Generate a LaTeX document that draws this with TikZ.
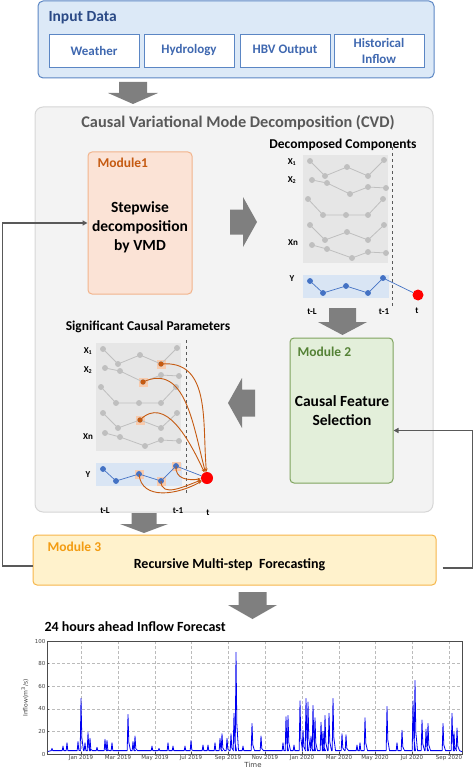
\documentclass[tikz,border=0pt]{standalone}
\usepackage{fontspec}
\setmainfont{Carlito}
\newfontfamily\plotfont{DejaVu Sans}
\usetikzlibrary{positioning,arrows.meta}

\definecolor{inputfill}{HTML}{DCE9F7}
\definecolor{inputedge}{HTML}{5B86C4}
\definecolor{inputtext}{HTML}{2B4A86}
\definecolor{srctext}{HTML}{3F68B0}
\definecolor{arrowgray}{HTML}{7F7F7F}
\definecolor{cvdfill}{HTML}{F3F3F3}
\definecolor{cvdedge}{HTML}{D6D6D6}
\definecolor{cvdtext}{HTML}{595959}
\definecolor{modAfill}{HTML}{FBE3D6}
\definecolor{modAedge}{HTML}{F2B48C}
\definecolor{modAtext}{HTML}{C55A11}
\definecolor{modBfill}{HTML}{E3EFDA}
\definecolor{modBedge}{HTML}{7FA35E}
\definecolor{modBtext}{HTML}{548235}
\definecolor{modCfill}{HTML}{FFF2CC}
\definecolor{modCedge}{HTML}{F6B64A}
\definecolor{modCtext}{HTML}{F39C12}
\definecolor{panelgray}{HTML}{E6E6E6}
\definecolor{panelblue}{HTML}{D9E5F4}
\definecolor{dotgray}{HTML}{BFBFBF}
\definecolor{dotblue}{HTML}{4472C4}
\definecolor{hlfill}{HTML}{F8CBAD}
\definecolor{causal}{HTML}{C55A11}
\definecolor{feedback}{HTML}{595959}
\definecolor{gridgray}{HTML}{BBBBBB}
\definecolor{flowblue}{HTML}{0000F0}

\begin{document}
\begin{tikzpicture}[
	x=1pt, y=-1pt,
	src/.style={draw=inputedge, fill=white, line width=0.8pt, minimum width=90, minimum height=33, inner sep=0pt,
		text=srctext, align=center, font=\fontsize{13}{16}\selectfont\bfseries},
	module/.style={rounded corners=4pt, line width=1pt},
	modlabel/.style={anchor=west, font=\fontsize{13.5}{15}\selectfont\bfseries},
	maintext/.style={align=center, font=\fontsize{15.5}{19}\selectfont\bfseries},
	% block arrow: length / shaft half width / head half width / head length
	pics/blockarrow/.style n args={4}{code={
		\fill[arrowgray] (0,-#2) -- ({#1-#4},-#2) -- ({#1-#4},-#3) -- (#1,0) -- ({#1-#4},#3) -- ({#1-#4},#2) -- (0,#2) -- cycle;
	}},
	sublabel/.style={font=\fontsize{9}{10}\selectfont\bfseries},
	comp/.style={dotgray, line width=0.8pt, mark=*, mark size=2.5pt, mark options={draw=none, fill=dotgray}},
	ycomp/.style={dotblue, line width=0.7pt, mark=*, mark size=2.5pt, mark options={draw=none, fill=dotblue}},
	hl/.style={fill=hlfill, minimum size=9, inner sep=0pt},
	now/.style={circle, fill=red, inner sep=0pt},
	split/.style={cvdtext, dashed, line width=0.9pt},
	cause/.style={causal, line width=0.9pt, -{Stealth[length=3.5pt, width=3pt]}},
	fb/.style={feedback, line width=1.6pt, -{Triangle[length=5pt, width=5pt]}},
	grid/.style={gridgray, densely dashed, line width=0.4pt},
	ticklab/.style={font=\plotfont\fontsize{5.5}{6}\selectfont, text=black!75, inner sep=1.5pt}
]
\useasboundingbox (0,0) rectangle (474,770);

% Input data
\node[draw=inputedge, fill=inputfill, rounded corners=5pt, line width=1pt, minimum width=396, minimum height=77] (input) at (236,39.5) {};
\node[anchor=west, text=inputtext, font=\fontsize{15.5}{17}\selectfont\bfseries] (inlabel) at (45,18) {Input Data};
\node[src] (weather) at (94,50.5) {Weather};
\node[src] (hydro) at (189,50.5) {Hydrology};
\node[src] (hbv) at (285,50.5) {HBV Output};
\node[src] (hist) at (379,50.5) {Historical\\Inflow};

\pic[rotate=-90] (a1) at (133,82) {blockarrow={22}{14}{25}{11}};

% CVD frame
\node[draw=cvdedge, fill=cvdfill, rounded corners=8pt, line width=1pt, minimum width=398, minimum height=405] (cvd) at (234,309.5) {};
\node[text=cvdtext, font=\fontsize{16.3}{18}\selectfont\bfseries] (cvdlabel) at (238,123) {Causal Variational Mode Decomposition (CVD)};

% Module 1
\node[module, draw=modAedge, fill=modAfill, minimum width=104, minimum height=142] (m1) at (140,223) {};
\node[modlabel, text=modAtext] (m1label) at (94,163) {Module1};
\node[maintext] (m1text) at (140,227) {Stepwise\\decomposition\\by VMD};

\pic (a2) at (230,222) {blockarrow={27}{12.5}{25}{14}};

% Decomposed components / significant causal parameters panels
\node[font=\fontsize{13.5}{15}\selectfont\bfseries] (dclabel) at (343,145) {Decomposed Components};
\node[font=\fontsize{13.5}{15}\selectfont\bfseries] (sclabel) at (148,327) {Significant Causal Parameters};
\foreach \dx/\dy in {0/0,-207/188} {
	\fill[panelgray, shift={(\dx,\dy)}] (303,155) rectangle (388,263);
	\fill[panelblue, shift={(\dx,\dy)}] (303,275) rectangle (389,298);
}
\node[hl] (h1) at (161,364) {};
\node[hl] (h2) at (143,382) {};
\node[hl] (h3) at (140,420) {};
\node[hl] (h4) at (139,474) {};
\node[hl] (h5) at (161,481) {};
\node[hl] (h6) at (176,466) {};
\foreach \dx/\dy in {0/0,-207/188} {
	\begin{scope}[shift={(\dx,\dy)}]
	\draw[comp] plot coordinates {(310,161) (325,176) (347,167) (368,176) (384,160)};
	\draw[comp] plot coordinates {(312,180) (327,183) (350,194) (368,187) (386,188)};
	\draw[comp] plot coordinates {(308,199) (323,215) (346,215) (368,215) (383,199)};
	\draw[comp] plot coordinates {(310,225) (325,240) (347,232) (368,240) (384,225)};
	\draw[comp] plot coordinates {(312,245) (327,249) (352,258) (368,252) (386,253)};
	\draw[ycomp] plot coordinates {(310,281) (323,293) (346,286) (368,293) (383,278)};
	\end{scope}
}
\foreach \h in {h1,h2,h3} \fill[causal] (\h) circle (2.6);

% labels of panel A
\node[sublabel] (ax1) at (292,162) {X\textsubscript{1}};
\node[sublabel] (ax2) at (292,180) {X\textsubscript{2}};
\node[sublabel] (axn) at (293,243) {Xn};
\node[sublabel] (ay) at (292,279) {Y};
\node[sublabel] (atl) at (312,312) {t-L};
\node[sublabel] (at1) at (384,312) {t-1};
\node[sublabel] (att) at (417,311) {t};
% labels of panel B
\node[sublabel] (bx1) at (88,351) {X\textsubscript{1}};
\node[sublabel] (bx2) at (88,370) {X\textsubscript{2}};
\node[sublabel] (bxn) at (88,437) {Xn};
\node[sublabel] (by) at (88,475) {Y};
\node[sublabel] (btl) at (105,511) {t-L};
\node[sublabel] (bt1) at (178,511) {t-1};
\node[sublabel] (btt) at (208,513) {t};

% split lines and targets
\coordinate (sA1) at (392,147);
\coordinate (sA2) at (392,307);
\coordinate (sB1) at (186,340);
\coordinate (sB2) at (186,495);
\draw[split] (sA1) -- (sA2);
\draw[split] (sB1) -- (sB2);
\coordinate (yA) at (383,278);
\coordinate (yB) at (176,466);
\node[now, minimum size=11] (tA) at (418,295) {};
\node[now, minimum size=12] (tB) at (207,478) {};
\draw[dotblue, line width=0.7pt] (yA) -- (tA);
\draw[dotblue, line width=0.7pt] (yB) -- (tB);

% causal links
\draw[cause] (h1.center) to[out=5, in=95, looseness=1.1] (tB);
\draw[cause] (h2.center) to[out=25, in=105, looseness=1.1] (tB);
\draw[cause] (h3.center) to[out=45, in=115, looseness=1.1] (tB);
\draw[cause] (h4.center) to[out=-85, in=-150, looseness=1.1] (tB);
\draw[cause] (h5.center) to[out=-90, in=-160, looseness=1.1] (tB);
\draw[cause] (h6.center) to[out=-95, in=-172, looseness=1.2] (tB);

\pic[rotate=-90] (a3) at (342.5,308) {blockarrow={27}{13.5}{24.5}{13}};

% Module 2
\node[module, draw=modBedge, fill=modBfill, minimum width=103, minimum height=145] (m2) at (341.5,410.5) {};
\node[modlabel, text=modBtext] (m2label) at (294,352) {Module 2};
\node[maintext] (m2text) at (342,411) {Causal Feature\\Selection};

\pic[rotate=180] (a4) at (255,403) {blockarrow={27}{13.5}{25}{14}};
\pic[rotate=-90] (a5) at (144,513) {blockarrow={20}{12.5}{24}{9}};

% Module 3
\node[module, draw=modCedge, fill=modCfill, minimum width=403, minimum height=50] (m3) at (234.5,560) {};
\node[modlabel, text=modCtext] (m3label) at (44,547) {Module 3};
\node[font=\fontsize{14}{16}\selectfont\bfseries] (m3text) at (229.5,565) {Recursive Multi-step\ \ Forecasting};

% feedback
\draw[fb] ([yshift=-6pt]m3.west) -- ++(-30,0) |- (m1.west);
\draw[fb] ([shift={(6pt,-8pt)}]m3.east) -- ++(30,0) |- ([yshift=-20pt]m2.east);

\pic[rotate=-90] (a6) at (252.5,592) {blockarrow={27}{14}{24.5}{14}};

% Forecast
\node[anchor=west, font=\fontsize{14}{16}\selectfont\bfseries] (fclabel) at (41,627) {24 hours ahead Inflow Forecast};
\node[rotate=90, font=\plotfont\fontsize{6}{7}\selectfont, text=black!75] (ylab) at (25,698) {Inflow(m\textsuperscript{3}/s)};
\node[font=\plotfont\fontsize{7}{8}\selectfont, text=black!75] (xlab) at (253,765) {Time};
\begin{scope}[shift={(0,754)}, y=1.13pt]
	\foreach \v in {20,40,60,80} \draw[grid] (47,\v) -- (462,\v);
	\foreach \x/\m [count=\i] in {81/Jan 2019, 118/Mar 2019, 155/May 2019, 191/Jul 2019, 228/Sep 2019, 265/Nov 2019,
		302/Jan 2020, 339/Mar 2020, 375/May 2020, 412/Jul 2020, 449/Sep 2020} {
		\draw[grid] (\x,0) -- (\x,100);
		\draw[black!70, line width=0.4pt] (\x,0) -- (\x,1.5);
		\node[ticklab, below] (xt\i) at (\x,0) {\m};
	}
	\foreach \v in {0,20,...,100} {
		\draw[black!70, line width=0.4pt] (47,\v) -- (49,\v);
		\node[ticklab, left] (yt\v) at (47,\v) {\v};
	}
	\draw[flowblue, line width=0.8pt, line join=round] (47,2)
		\foreach \x/\v in {52/5, 63/7, 67/10, 78/11, 81/49, 85/10, 88/19, 90/14, 97/6, 105/13, 107/12, 112/10,
			128/35, 133/11, 135/16, 152/7, 159/5, 168/10, 173/7, 185/7, 191/12, 203/8, 208/8, 215/10, 220/14,
			222/18, 227/14, 231/18, 234/36, 236/90, 243/7, 252/27, 261/16, 283/10, 286/33, 288/34, 294/8,
			300/47, 303/21, 306/49, 308/46, 311/16, 313/43, 315/32, 321/28, 323/20, 325/34, 329/36, 333/49,
			342/18, 346/17, 357/8, 360/10, 365/32, 387/42, 397/10, 402/21, 413/47, 415/65, 422/30, 426/22,
			428/27, 443/27, 452/36, 454/19, 457/23}
		{ -- ({\x-0.8},3) -- (\x,\v) -- ({\x+0.8},{max(0.3*\v,3)}) -- ({\x+2.5},3) } -- (462,2);
	\draw[black!70, line width=0.5pt] (47,0) rectangle (462,100);
\end{scope}
\end{tikzpicture}
\end{document}
